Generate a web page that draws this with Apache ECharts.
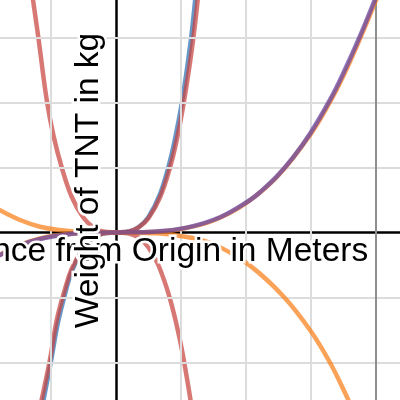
<!DOCTYPE html>
<html>
<head>
<meta charset="utf-8">
<script src="https://cdn.jsdelivr.net/npm/echarts@6/dist/echarts.min.js"></script>
<style>
html, body { margin: 0; padding: 0; background: #fff; }
#chart { width: 400px; height: 400px; }
</style>
</head>
<body>
<div id="chart"></div>
<script>
// axis labels
const xTitle = "Distance from Origin in Meters"
const yTitle = "Weight of TNT in kg"

// gridlines (axis units)
const gridX = [-1, 1, 2, 3]
const gridY = [-2, -1, 1, 2, 3]
const markX = [4]

// curves, [x, y]
const blueRise = [
	[-1.12, -2.6], [-1.0, -1.98], [-0.9, -1.42], [-0.78, -0.93], [-0.68, -0.6], [-0.5, -0.24],
	[-0.35, -0.085], [-0.2, -0.016], [0, 0], [0.2, 0.016], [0.35, 0.085], [0.5, 0.24],
	[0.68, 0.6], [0.83, 1.1], [0.93, 1.55], [1.03, 2.1], [1.15, 2.95], [1.22, 3.6]
]
const redFall = [
	[-1.28, 3.6], [-1.195, 3.0], [-1.066, 2.04], [-0.964, 1.5], [-0.835, 1.0], [-0.682, 0.55],
	[-0.503, 0.23], [-0.35, 0.08], [-0.2, 0.015], [0, 0], [0.2, -0.015], [0.35, -0.08],
	[0.5, -0.23], [0.651, -0.5], [0.831, -1.02], [0.985, -1.66], [1.088, -2.22], [1.15, -2.6]
]
const redRise = [
	[-1.15, -2.6], [-1.015, -1.95], [-0.912, -1.35], [-0.785, -0.87], [-0.682, -0.56], [-0.5, -0.23],
	[-0.35, -0.08], [-0.2, -0.015], [0, 0], [0.2, 0.015], [0.35, 0.08], [0.5, 0.22],
	[0.677, 0.54], [0.831, 1.0], [0.938, 1.44], [1.035, 1.95], [1.165, 2.8], [1.26, 3.6]
]
const orangeFall = [
	[-1.8, 0.35], [-1.477, 0.192], [-1.169, 0.089], [-0.862, 0.038], [-0.5, 0.007], [0, 0],
	[0.6, -0.012], [1.0, -0.055], [1.292, -0.11], [1.6, -0.225], [2.062, -0.51], [2.574, -0.98],
	[2.985, -1.5], [3.292, -2.0], [3.549, -2.52], [3.6, -2.64]
]
const orangeRise = [
	[-1.8, -0.35], [-1.477, -0.19], [-1.169, -0.09], [-0.862, -0.037], [-0.5, -0.007], [0, 0],
	[0.6, 0.012], [1.0, 0.055], [1.5, 0.185], [2.0, 0.45], [2.5, 0.88], [3.0, 1.52],
	[3.3, 2.02], [3.5, 2.41], [3.75, 2.97], [4.02, 3.62]
]
const purpleRise = [
	[-1.8, -0.355], [-1.477, -0.2], [-1.169, -0.1], [-0.758, -0.03], [-0.4, -0.005], [0, 0],
	[0.574, 0.013], [1.088, 0.075], [1.6, 0.235], [2.062, 0.5], [2.215, 0.62], [2.472, 0.86],
	[2.728, 1.16], [2.985, 1.52], [3.292, 2.04], [3.497, 2.45], [3.754, 3.02], [3.99, 3.6]
]

const curve = (data, color, z) => ({
	type: "line",
	data: data,
	smooth: 0.4,
	symbol: "none",
	z: z,
	silent: true,
	lineStyle: { color: color, width: 4.5, opacity: 0.72, cap: "round" }
})

const chart = echarts.init(document.getElementById("chart"), null, { renderer: "canvas" })

chart.setOption({
	animation: false,
	backgroundColor: "#fff",
	grid: { left: 0, right: 0, top: 0, bottom: 0 },
	xAxis: {
		type: "value",
		min: -1.785,
		max: 4.37,
		z: 2,
		axisLine: { show: true, onZero: true, lineStyle: { color: "#000", width: 2.5 } },
		axisTick: { show: false },
		axisLabel: { show: false },
		splitLine: { show: false }
	},
	yAxis: {
		type: "value",
		min: -2.577,
		max: 3.577,
		z: 2,
		axisLine: { show: true, onZero: true, lineStyle: { color: "#000", width: 2.5 } },
		axisTick: { show: false },
		axisLabel: { show: false },
		splitLine: { show: false }
	},
	series: [
		{
			type: "line",
			data: [],
			z: 1,
			silent: true,
			markLine: {
				silent: true,
				symbol: ["none", "none"],
				label: { show: false },
				animation: false,
				lineStyle: { color: "#dcdcdc", width: 2, type: "solid" },
				data: gridX.map(v => ({ xAxis: v }))
					.concat(gridY.map(v => ({ yAxis: v })))
					.concat(markX.map(v => ({ xAxis: v, lineStyle: { color: "#8f8f8f", width: 2 } })))
			}
		},
		curve(blueRise, "#2d70b3", 3),
		curve(redFall, "#c74440", 4),
		curve(redRise, "#c74440", 4),
		curve(orangeFall, "#fa7e19", 5),
		curve(orangeRise, "#fa7e19", 5),
		curve(purpleRise, "#6042a6", 6)
	],
	graphic: [
		{
			type: "text",
			z: 100,
			x: 142,
			y: 252,
			style: {
				text: xTitle,
				font: "33.5px 'Liberation Sans', Arial, sans-serif",
				fill: "#000",
				stroke: "#fff",
				lineWidth: 5,
				align: "center",
				verticalAlign: "middle"
			}
		},
		{
			type: "text",
			z: 101,
			x: 89,
			y: 180.5,
			rotation: Math.PI / 2,
			style: {
				text: yTitle,
				font: "33.5px 'Liberation Sans', Arial, sans-serif",
				fill: "#000",
				stroke: "#fff",
				lineWidth: 5,
				align: "center",
				verticalAlign: "middle"
			}
		}
	]
})
</script>
</body>
</html>
